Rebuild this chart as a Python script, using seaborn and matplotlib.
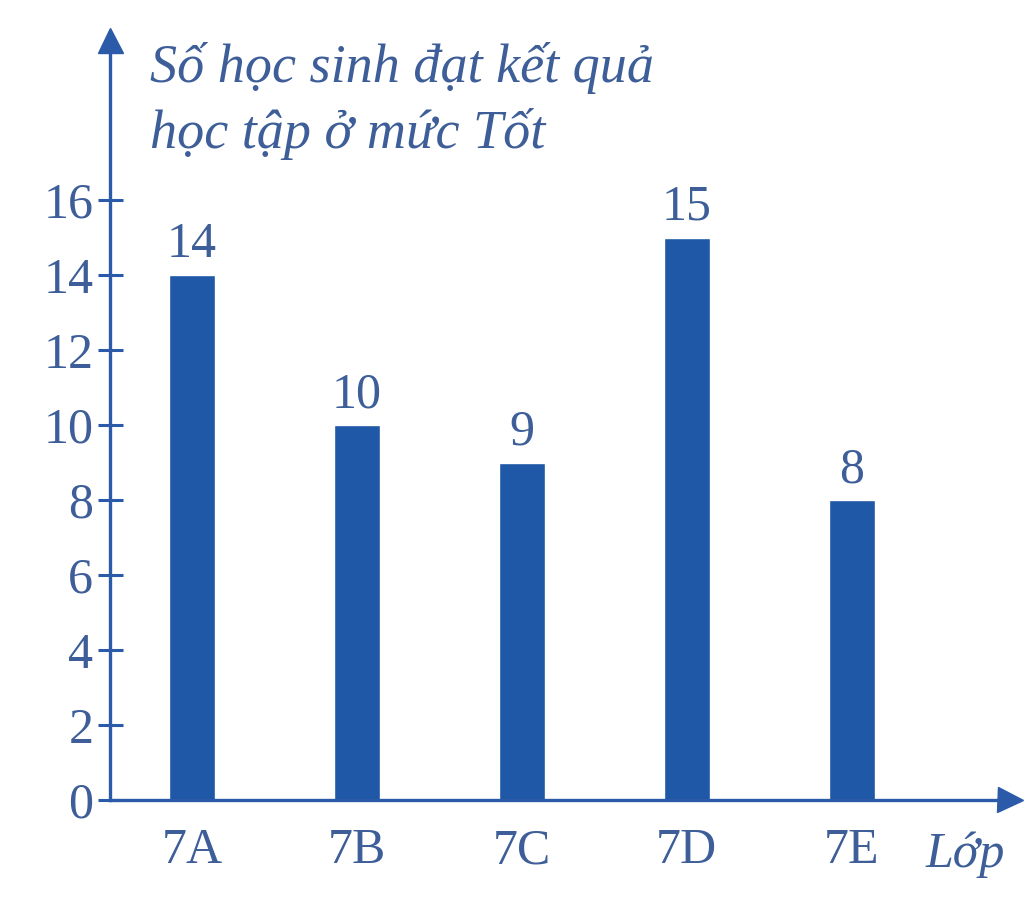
import matplotlib
matplotlib.use("Agg")
import matplotlib.pyplot as plt
import seaborn as sns
import pandas as pd

# data
classes = ["7A", "7B", "7C", "7D", "7E"]
good_students = [14, 10, 9, 15, 8]
y_ticks = [0, 2, 4, 6, 8, 10, 12, 14, 16]

bar_color = "#1f58a6"
axis_color = "#2b5ba8"
text_color = "#3d5e98"

sns.set_theme(style="white")
plt.rcParams["font.family"] = ["Liberation Serif", "DejaVu Serif"]

df = pd.DataFrame({"Lop": classes, "So": good_students})

fig = plt.figure(figsize=(10.24, 8.98), dpi=100)
ax = fig.add_axes([110 / 1024, 98 / 898, 900 / 1024, 760 / 898])

sns.barplot(data=df, x="Lop", y="So", color=bar_color, width=0.28,
            saturation=1, ax=ax)
for c in ax.containers:
    ax.bar_label(c, padding=5, fontsize=36, color=text_color)

ax.set_xlim(-0.497, 4.96)
ax.set_ylim(0, 20.27)
ax.set_yticks(y_ticks)
ax.set_xlabel("")
ax.set_ylabel("")

for s in ["top", "right"]:
    ax.spines[s].set_visible(False)
for s in ["left", "bottom"]:
    ax.spines[s].set_color(axis_color)
    ax.spines[s].set_linewidth(2.4)
    ax.spines[s].set_zorder(5)

ax.tick_params(axis="y", direction="inout", length=18, width=2.2,
               color=axis_color, labelcolor=text_color, labelsize=36, pad=3,
               left=True)
ax.tick_params(axis="x", length=0, labelcolor=text_color, labelsize=36, pad=20)

# arrow heads on the axes
ax.plot(1, 0, ">", color=axis_color, markersize=18, clip_on=False,
        transform=ax.transAxes)
ax.plot(0, 1, "^", color=axis_color, markersize=18, clip_on=False,
        transform=ax.transAxes)

fig.text(150 / 1024, 1 - 42 / 898, "Số học sinh đạt kết quả\nhọc tập ở mức Tốt",
         fontsize=39, style="italic", color=text_color, ha="left", va="top",
         linespacing=1.35)
fig.text(965 / 1024, 1 - 855 / 898, "Lớp", fontsize=36, style="italic",
         color=text_color, ha="center", va="center")

fig.savefig("out.png", dpi=100)
